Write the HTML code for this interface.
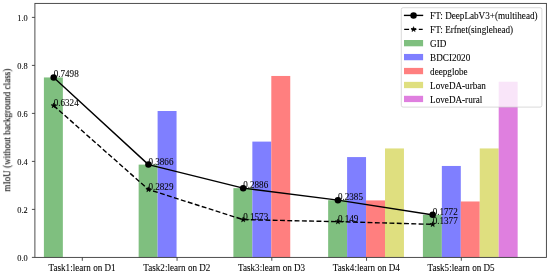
<!DOCTYPE html>
<html><head><meta charset="utf-8"><title>chart</title>
<style>html,body{margin:0;padding:0;background:#fff}svg{display:block}text{font-family:"Liberation Serif",serif;font-size:9.9px;fill:#000;stroke:#000;stroke-width:.08px;filter:blur(.3px)}</style></head>
<body>
<svg width="550" height="275" viewBox="0 0 550 275">
<rect width="550" height="275" fill="#fff"/>
<rect x="43.9" y="77.45" width="18.95" height="179.95" fill="#7fbf7f"/>
<rect x="138.65" y="164.62" width="18.95" height="92.78" fill="#7fbf7f"/>
<rect x="233.4" y="188.14" width="18.95" height="69.26" fill="#7fbf7f"/>
<rect x="328.15" y="200.16" width="18.95" height="57.24" fill="#7fbf7f"/>
<rect x="422.9" y="214.87" width="18.95" height="42.53" fill="#7fbf7f"/>
<rect x="157.6" y="111" width="18.95" height="146.4" fill="#7f7fff"/>
<rect x="252.35" y="141.6" width="18.95" height="115.8" fill="#7f7fff"/>
<rect x="347.1" y="157.08" width="18.95" height="100.32" fill="#7f7fff"/>
<rect x="441.85" y="165.96" width="18.95" height="91.44" fill="#7f7fff"/>
<rect x="271.3" y="75.96" width="18.95" height="181.44" fill="#ff7f7f"/>
<rect x="366.05" y="200.4" width="18.95" height="57" fill="#ff7f7f"/>
<rect x="460.8" y="201.48" width="18.95" height="55.92" fill="#ff7f7f"/>
<rect x="385" y="148.44" width="18.95" height="108.96" fill="#dfdf7f"/>
<rect x="479.75" y="148.44" width="18.95" height="108.96" fill="#dfdf7f"/>
<rect x="498.7" y="81.72" width="18.95" height="175.68" fill="#df7fdf"/>
<polyline points="53.67,77.45 148.43,164.62 243.18,188.14 337.93,200.16 432.68,214.87" fill="none" stroke="#000" stroke-width="1.4" stroke-linejoin="round" stroke-linecap="square"/>
<polyline points="53.67,105.62 148.43,189.5 243.18,219.65 337.93,221.64 432.68,224.35" fill="none" stroke="#000" stroke-width="1.4" stroke-dasharray="4.9 2.4" stroke-linejoin="round"/>
<circle cx="53.67" cy="77.45" r="3.25" fill="#000"/>
<circle cx="148.43" cy="164.62" r="3.25" fill="#000"/>
<circle cx="243.18" cy="188.14" r="3.25" fill="#000"/>
<circle cx="337.93" cy="200.16" r="3.25" fill="#000"/>
<circle cx="432.68" cy="214.87" r="3.25" fill="#000"/>
<polygon points="53.67,102.92 54.28,104.79 56.24,104.79 54.66,105.94 55.26,107.81 53.67,106.66 52.09,107.81 52.69,105.94 51.11,104.79 53.07,104.79" fill="#000" stroke="#000" stroke-width="0.6" stroke-linejoin="miter"/>
<polygon points="148.43,186.8 149.03,188.67 150.99,188.67 149.41,189.82 150.01,191.69 148.43,190.54 146.84,191.69 147.44,189.82 145.86,188.67 147.82,188.67" fill="#000" stroke="#000" stroke-width="0.6" stroke-linejoin="miter"/>
<polygon points="243.18,216.95 243.78,218.81 245.74,218.81 244.16,219.97 244.76,221.83 243.18,220.68 241.59,221.83 242.19,219.97 240.61,218.81 242.57,218.81" fill="#000" stroke="#000" stroke-width="0.6" stroke-linejoin="miter"/>
<polygon points="337.93,218.94 338.53,220.81 340.49,220.81 338.91,221.96 339.51,223.82 337.93,222.67 336.34,223.82 336.94,221.96 335.36,220.81 337.32,220.81" fill="#000" stroke="#000" stroke-width="0.6" stroke-linejoin="miter"/>
<polygon points="432.68,221.65 433.28,223.52 435.24,223.52 433.66,224.67 434.26,226.54 432.68,225.38 431.09,226.54 431.69,224.67 430.11,223.52 432.07,223.52" fill="#000" stroke="#000" stroke-width="0.6" stroke-linejoin="miter"/>
<rect x="34.9" y="3.4" width="511.5" height="254" fill="none" stroke="#3a3a3a" stroke-width="0.9"/>
<line x1="82.3" y1="257.4" x2="82.3" y2="260.8" stroke="#3a3a3a" stroke-width="0.9"/>
<text transform="translate(82.1,271.1) scale(0.92,1)" text-anchor="middle">Task1:learn on D1</text>
<line x1="177.05" y1="257.4" x2="177.05" y2="260.8" stroke="#3a3a3a" stroke-width="0.9"/>
<text transform="translate(176.85,271.1) scale(0.92,1)" text-anchor="middle">Task2:learn on D2</text>
<line x1="271.8" y1="257.4" x2="271.8" y2="260.8" stroke="#3a3a3a" stroke-width="0.9"/>
<text transform="translate(271.6,271.1) scale(0.92,1)" text-anchor="middle">Task3:learn on D3</text>
<line x1="366.55" y1="257.4" x2="366.55" y2="260.8" stroke="#3a3a3a" stroke-width="0.9"/>
<text transform="translate(366.35,271.1) scale(0.92,1)" text-anchor="middle">Task4:learn on D4</text>
<line x1="461.3" y1="257.4" x2="461.3" y2="260.8" stroke="#3a3a3a" stroke-width="0.9"/>
<text transform="translate(461.1,271.1) scale(0.92,1)" text-anchor="middle">Task5:learn on D5</text>
<line x1="31.9" y1="257.4" x2="34.9" y2="257.4" stroke="#3a3a3a" stroke-width="0.9"/>
<text transform="translate(27.7,261.2) scale(0.92,1)" text-anchor="end" style="font-size:9.1px">0.0</text>
<line x1="31.9" y1="209.4" x2="34.9" y2="209.4" stroke="#3a3a3a" stroke-width="0.9"/>
<text transform="translate(27.7,213.2) scale(0.92,1)" text-anchor="end" style="font-size:9.1px">0.2</text>
<line x1="31.9" y1="161.4" x2="34.9" y2="161.4" stroke="#3a3a3a" stroke-width="0.9"/>
<text transform="translate(27.7,165.2) scale(0.92,1)" text-anchor="end" style="font-size:9.1px">0.4</text>
<line x1="31.9" y1="113.4" x2="34.9" y2="113.4" stroke="#3a3a3a" stroke-width="0.9"/>
<text transform="translate(27.7,117.2) scale(0.92,1)" text-anchor="end" style="font-size:9.1px">0.6</text>
<line x1="31.9" y1="65.4" x2="34.9" y2="65.4" stroke="#3a3a3a" stroke-width="0.9"/>
<text transform="translate(27.7,69.2) scale(0.92,1)" text-anchor="end" style="font-size:9.1px">0.8</text>
<line x1="31.9" y1="17.4" x2="34.9" y2="17.4" stroke="#3a3a3a" stroke-width="0.9"/>
<text transform="translate(27.7,21.2) scale(0.92,1)" text-anchor="end" style="font-size:9.1px">1.0</text>
<text transform="translate(10.3,130.2) rotate(-90) scale(0.922,1)" text-anchor="middle">mIoU (without background class)</text>
<text transform="translate(53.67,77.45) scale(0.92,1)">0.7498</text>
<text transform="translate(148.43,164.62) scale(0.92,1)">0.3866</text>
<text transform="translate(243.18,188.14) scale(0.92,1)">0.2886</text>
<text transform="translate(337.93,200.16) scale(0.92,1)">0.2385</text>
<text transform="translate(432.68,214.87) scale(0.92,1)">0.1772</text>
<text transform="translate(53.67,105.62) scale(0.92,1)">0.6324</text>
<text transform="translate(148.43,189.5) scale(0.92,1)">0.2829</text>
<text transform="translate(243.18,219.65) scale(0.92,1)">0.1573</text>
<text transform="translate(337.93,221.64) scale(0.92,1)">0.149</text>
<text transform="translate(432.68,224.35) scale(0.92,1)">0.1377</text>
<rect x="401.3" y="7.7" width="140.6" height="99.4" rx="1.8" fill="#fff" fill-opacity="0.8" stroke="#ccc" stroke-opacity="0.8" stroke-width="0.9"/>
<line x1="404.6" y1="15.4" x2="422.5" y2="15.4" stroke="#000" stroke-width="1.4" stroke-linecap="square"/>
<circle cx="413.55" cy="15.4" r="3.25" fill="#000"/>
<line x1="404.2" y1="29.35" x2="422.7" y2="29.35" stroke="#000" stroke-width="1.4" stroke-dasharray="4.9 2.4"/>
<polygon points="413.55,26.65 414.16,28.52 416.12,28.52 414.53,29.67 415.14,31.53 413.55,30.38 411.96,31.53 412.57,29.67 410.98,28.52 412.94,28.52" fill="#000" stroke="#000" stroke-width="0.6" stroke-linejoin="miter"/>
<rect x="404" y="40" width="19.1" height="6.3" fill="#7fbf7f"/>
<rect x="404" y="53.95" width="19.1" height="6.3" fill="#7f7fff"/>
<rect x="404" y="67.9" width="19.1" height="6.3" fill="#ff7f7f"/>
<rect x="404" y="81.85" width="19.1" height="6.3" fill="#dfdf7f"/>
<rect x="404" y="95.8" width="19.1" height="6.3" fill="#df7fdf"/>
<text transform="translate(430.1,18.8) scale(0.925,1)">FT: DeepLabV3+(multihead)</text>
<text transform="translate(430.1,32.75) scale(0.925,1)">FT: Erfnet(singlehead)</text>
<text transform="translate(430.1,46.7) scale(0.925,1)">GID</text>
<text transform="translate(430.1,60.65) scale(0.925,1)">BDCI2020</text>
<text transform="translate(430.1,74.6) scale(0.925,1)">deepglobe</text>
<text transform="translate(430.1,88.55) scale(0.925,1)">LoveDA-urban</text>
<text transform="translate(430.1,102.5) scale(0.925,1)">LoveDA-rural</text>
</svg>
</body></html>
